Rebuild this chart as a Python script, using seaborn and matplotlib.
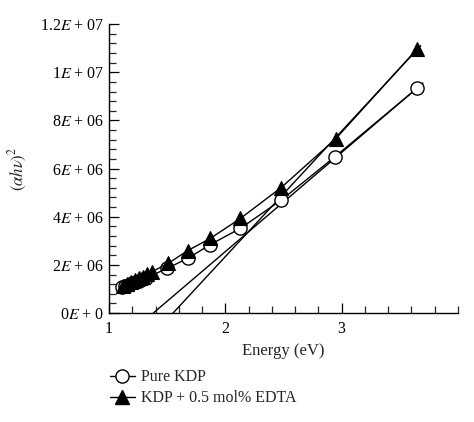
# plot.py
# Recreates the (alpha h nu)^2 vs energy chart for pure KDP and EDTA-doped KDP.

# Import matplotlib for plotting.
import matplotlib.pyplot as plt

# Import ticker helpers for the axis ticks.
from matplotlib.ticker import MultipleLocator, FixedLocator

# Import Line2D for the legend handles.
from matplotlib.lines import Line2D

# Import pandas for building the plotting table.
import pandas as pd

# Import seaborn for the line plots.
import seaborn as sns

# Energy values (eV) for pure KDP.
pure_energy = [1.11, 1.14, 1.17, 1.20, 1.23, 1.26, 1.29, 1.32, 1.50, 1.68, 1.865, 2.13, 2.48, 2.94, 3.65]

# (alpha h nu)^2 values for pure KDP.
pure_values = [1.08e6, 1.13e6, 1.18e6, 1.23e6, 1.29e6, 1.34e6, 1.40e6, 1.46e6, 1.86e6, 2.28e6, 2.83e6, 3.52e6, 4.69e6, 6.48e6, 9.34e6]

# Energy values (eV) for KDP + 0.5 mol% EDTA.
edta_energy = [1.12, 1.155, 1.19, 1.225, 1.26, 1.295, 1.33, 1.37, 1.51, 1.675, 1.87, 2.13, 2.48, 2.95, 3.65]

# (alpha h nu)^2 values for KDP + 0.5 mol% EDTA.
edta_values = [1.12e6, 1.20e6, 1.28e6, 1.36e6, 1.44e6, 1.52e6, 1.61e6, 1.72e6, 2.07e6, 2.59e6, 3.10e6, 3.93e6, 5.21e6, 7.24e6, 10.97e6]

# Tangent line end points for pure KDP.
pure_fit_energy = [1.38, 3.70]
pure_fit_values = [0.0, 9.55e6]

# Tangent line end points for the EDTA sample.
edta_fit_energy = [1.55, 3.68]
edta_fit_values = [0.0, 11.1e6]

# Y tick positions and their labels.
y_ticks = [0, 2e6, 4e6, 6e6, 8e6, 10e6, 12e6]
y_labels = ["0$E$ + 0", "2$E$ + 06", "4$E$ + 06", "6$E$ + 06", "8$E$ + 06", "1$E$ + 07", "1.2$E$ + 07"]

# Series names for the legend.
series_names = ["Pure KDP", "KDP + 0.5 mol% EDTA"]

# Build data tables for seaborn.
pure_df = pd.DataFrame({"energy": pure_energy, "value": pure_values})
edta_df = pd.DataFrame({"energy": edta_energy, "value": edta_values})

# Use a plain tick style.
sns.set_style("ticks")

# Use a Times-like serif font everywhere (after set_style).
plt.rcParams["font.family"] = ["Liberation Serif", "DejaVu Serif"]
plt.rcParams["mathtext.fontset"] = "stix"

# Create the figure and axes.
fig = plt.figure(figsize=(4.74, 4.22), dpi=100)
ax = fig.add_axes([0.230, 0.258, 0.736, 0.685])

# Draw the tangent lines.
sns.lineplot(x=pure_fit_energy, y=pure_fit_values, ax=ax, color="black", linewidth=1.0)
sns.lineplot(x=edta_fit_energy, y=edta_fit_values, ax=ax, color="black", linewidth=1.0)

# Draw the pure KDP series with open circles.
sns.lineplot(data=pure_df, x="energy", y="value", ax=ax, color="black", linewidth=1.0,
             marker="o", markersize=9.5, markerfacecolor="white", markeredgecolor="black",
             markeredgewidth=1.0, sort=False)

# Draw the EDTA series with filled triangles.
sns.lineplot(data=edta_df, x="energy", y="value", ax=ax, color="black", linewidth=1.0,
             marker="^", markersize=10, markerfacecolor="black", markeredgecolor="black",
             markeredgewidth=0.8, sort=False)

# Set the axis limits.
ax.set_xlim(1, 4)
ax.set_ylim(0, 1.2e7)

# Set the x ticks.
ax.xaxis.set_major_locator(FixedLocator([1, 2, 3]))
ax.xaxis.set_minor_locator(MultipleLocator(0.2))

# Set the y ticks.
ax.set_yticks(y_ticks)
ax.set_yticklabels(y_labels)
ax.yaxis.set_minor_locator(MultipleLocator(4e5))

# Style the ticks inward.
ax.tick_params(axis="both", which="major", direction="in", length=7, width=0.9, labelsize=11.5, colors="black")
ax.tick_params(axis="both", which="minor", direction="in", length=5, width=0.9)
ax.tick_params(axis="x", which="major", pad=6)

# Keep only the left and bottom spines.
sns.despine(ax=ax)
for side in ["left", "bottom"]:
    ax.spines[side].set_linewidth(1.0)
    ax.spines[side].set_color("black")

# Label the axes.
ax.set_xlabel("Energy (eV)", fontsize=12, labelpad=4)
ax.set_ylabel(r"$(\alpha h\nu)^2$", fontsize=12, labelpad=8)

# Build the legend handles.
handles = [
    Line2D([], [], color="black", linewidth=1.0, marker="o", markersize=9.5,
           markerfacecolor="white", markeredgecolor="black"),
    Line2D([], [], color="black", linewidth=1.0, marker="^", markersize=10,
           markerfacecolor="black", markeredgecolor="black"),
]

# Place the legend below the plot.
fig.legend(handles, series_names, loc="upper left", bbox_to_anchor=(0.218, 0.14),
           frameon=False, fontsize=11.5, handlelength=1.6, handletextpad=0.35,
           labelspacing=0.3, borderaxespad=0)

# Save the figure.
fig.savefig("out.png", dpi=100)
